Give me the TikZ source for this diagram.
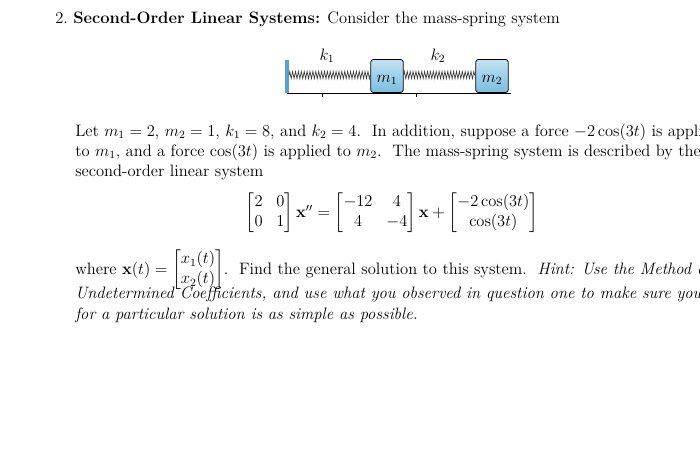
\documentclass[tikz,border=0pt]{standalone}
\usepackage{amsmath}
\usetikzlibrary{decorations.pathmorphing}
\definecolor{massblue}{RGB}{120,190,225}
\definecolor{wallblue}{RGB}{90,160,210}
\tikzset{
  txt/.style={anchor=base west,inner sep=0pt,font=\fontsize{12}{14.5}\selectfont},
  mass/.style={draw=black,line width=0.6pt,top color=massblue!45,bottom color=massblue,inner sep=0pt,minimum width=23.5pt,minimum height=24pt,rounded corners=2pt},
  spring/.style={decorate,decoration={zigzag,segment length=2.1pt,amplitude=2.6pt},line width=0.5pt,draw=black!75}
}
\begin{document}
\begin{tikzpicture}[x=0.725pt,y=-0.725pt]
\path[use as bounding box] (0,0) rectangle (700,453);
\clip (0,0) rectangle (700,453);
\fill[white] (0,0) rectangle (700,453);
% figure
\fill[wallblue] (285,60) rectangle (289,93);
\coordinate (wall) at (289,75);
\draw[line width=0.6pt] (287,93) -- (511,93);
\draw (322,93) -- (322,97);
\draw (416,93) -- (416,97);
\node[mass] (m1) at (387,76) {};
\node[mass] (m2) at (492,76) {};
\node at (m1) [font=\fontsize{12}{14}\selectfont,yshift=-3pt] {$m_1$};
\node at (m2) [font=\fontsize{12}{14}\selectfont,yshift=-3pt] {$m_2$};
\draw[spring] (wall) -- (m1.west |- wall);
\draw[spring] (m1.east |- wall) -- (m2.west |- wall);
\node[font=\fontsize{12}{14}\selectfont] (k1) at (327,56) {$k_1$};
\node[font=\fontsize{12}{14}\selectfont] (k2) at (438,56) {$k_2$};
% text
\node[txt] (t0) at (55,24) {2.\ \textbf{Second-Order Linear Systems:} Consider the mass-spring system};
\node[txt] (t1) at (75,136) {Let $m_1=2$, $m_2=1$, $k_1=8$, and $k_2=4$.\ \ In addition, suppose a force $-2\cos(3t)$ is applied};
\node[txt] (t2) at (75,156) {to $m_1$, and a force $\cos(3t)$ is applied to $m_2$.\ \ The mass-spring system is described by the};
\node[txt] (t3) at (75,176) {second-order linear system};
\node[font=\fontsize{12}{14.5}\selectfont] (eq) at (392,213) {$\begin{bmatrix}2&0\\0&1\end{bmatrix}\mathbf{x}''=\begin{bmatrix}-12&4\\4&-4\end{bmatrix}\mathbf{x}+\begin{bmatrix}-2\cos(3t)\\\cos(3t)\end{bmatrix}$};
\node[txt] (t4) at (75,274) {where $\mathbf{x}(t)=\begin{bmatrix}x_1(t)\\x_2(t)\end{bmatrix}$.\ \ Find the general solution to this system.\ \ \textit{Hint: Use the Method of}};
\node[txt] (t5) at (75,298) {\textit{Undetermined Coefficients, and use what you observed in question one to make sure your guess}};
\node[txt] (t6) at (75,319) {\textit{for a particular solution is as simple as possible.}};
\end{tikzpicture}
\end{document}
